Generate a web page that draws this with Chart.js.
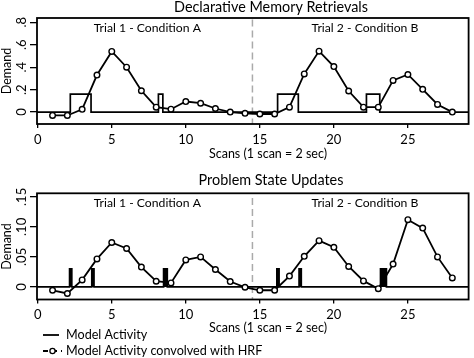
<!DOCTYPE html>
<html>
<head>
<meta charset="utf-8">
<script src="https://cdn.jsdelivr.net/npm/chart.js@4.4.1/dist/chart.umd.min.js"></script>
<style>
  html, body { margin: 0; padding: 0; background: #fff; }
  #wrap { position: relative; width: 474px; height: 358px; }
  #top { position: absolute; left: 0; top: 0; }
  #bottom { position: absolute; left: 0; top: 170px; }
</style>
</head>
<body>
<div id="wrap">
  <canvas id="top" width="474" height="170"></canvas>
  <canvas id="bottom" width="474" height="188"></canvas>
</div>
<script>
// ----- data -----
var scans = [1, 2, 3, 4, 5, 6, 7, 8, 9, 10, 11, 12, 13, 14, 15, 16, 17, 18, 19, 20, 21, 22, 23, 24, 25, 26, 27, 28];

// Declarative memory retrievals
var retrievalHrf = [-0.03, -0.03, 0.025, 0.33, 0.54, 0.40, 0.19, 0.044, 0.026, 0.094, 0.079, 0.032, 0.0, -0.011,
                    -0.017, -0.017, 0.044, 0.34, 0.543, 0.405, 0.188, 0.044, 0.044, 0.282, 0.335, 0.203, 0.068, 0.0];
var retrievalOnset = [2.2, 8.15, 16.2, 22.2];
var retrievalOffset = [3.6, 8.45, 17.6, 23.1];
var retrievalLevel = 0.16;

// Problem state updates
var updateHrf = [-0.0056, -0.011, 0.0117, 0.0467, 0.074, 0.064, 0.033, 0.0094, 0.0067, 0.045, 0.05, 0.029, 0.0089, -0.0006,
                 -0.0056, -0.0056, 0.018, 0.051, 0.077, 0.066, 0.034, 0.01, -0.003, 0.038, 0.112, 0.098, 0.05, 0.015];
var updateOnset = [2.15, 3.65, 8.5, 16.15, 17.65, 23.15];
var updateOffset = [2.3, 3.8, 8.75, 16.3, 17.8, 23.55];
var updateLevel = 0.03;

var xTicks = [0, 5, 10, 15, 20, 25];
var retrievalYTicks = [0, 0.2, 0.4, 0.6, 0.8];
var retrievalYLabels = ['0', '.2', '.4', '.6', '.8'];
var updateYTicks = [0, 0.05, 0.10, 0.15];
var updateYLabels = ['0', '.05', '.10', '.15'];

var trialBoundary = 14.5;
var trialNames = ['Trial 1 - Condition A', 'Trial 2 - Condition B'];
var legendNames = ['Model Activity', 'Model Activity convolved with HRF'];

Chart.defaults.font.family = 'Lato';
Chart.defaults.color = '#000';

// step outline of the model activity, from onset / offset lists
function stepPoints(onset, offset, level) {
  var pts = [{ x: -1, y: 0 }];
  for (var i = 0; i < onset.length; i++) {
    pts.push({ x: onset[i], y: 0 }, { x: onset[i], y: level }, { x: offset[i], y: level }, { x: offset[i], y: 0 });
  }
  pts.push({ x: 31, y: 0 });
  return pts;
}

function hrfPoints(values) {
  return scans.map(function (s, i) { return { x: s, y: values[i] }; });
}

// texts, box and legend drawn around the plot region
function decorations(o) {
  return {
    id: 'decorations',
    afterDraw: function (chart) {
      var ctx = chart.ctx, a = chart.chartArea, xs = chart.scales.x, ys = chart.scales.y;
      ctx.save();
      ctx.strokeStyle = '#000';
      ctx.lineWidth = 1.8;
      ctx.strokeRect(a.left, a.top, a.right - a.left, a.bottom - a.top);

      ctx.fillStyle = '#000';
      ctx.textAlign = 'center';
      ctx.textBaseline = 'middle';
      ctx.font = '14.4px Lato';
      ctx.fillText(o.title, 271, o.titleY);

      ctx.font = '12.2px Lato';
      ctx.fillText(trialNames[0], xs.getPixelForValue(7.4), a.top + 10);
      ctx.fillText(trialNames[1], xs.getPixelForValue(22.1), a.top + 10);

      ctx.font = '12.5px Lato';
      ctx.fillText('Scans (1 scan = 2 sec)', 268, o.scansY);

      ctx.font = '13px Lato';
      o.yTicks.forEach(function (v, i) {
        ctx.save();
        ctx.translate(22, ys.getPixelForValue(v));
        ctx.rotate(-Math.PI / 2);
        ctx.fillText(o.yLabels[i], 0, 0);
        ctx.restore();
      });

      ctx.font = '12.5px Lato';
      ctx.save();
      ctx.translate(6.5, (a.top + a.bottom) / 2);
      ctx.rotate(-Math.PI / 2);
      ctx.fillText('Demand', 0, 0);
      ctx.restore();

      if (o.legendY) {
        ctx.font = '12.6px Lato';
        ctx.textAlign = 'left';
        ctx.lineWidth = 1.8;
        ctx.beginPath();
        ctx.moveTo(43, o.legendY[0]);
        ctx.lineTo(59, o.legendY[0]);
        ctx.stroke();
        ctx.fillText(legendNames[0], 66, o.legendY[0]);

        ctx.beginPath();
        ctx.setLineDash([5, 4]);
        ctx.moveTo(43, o.legendY[1]);
        ctx.lineTo(62, o.legendY[1]);
        ctx.stroke();
        ctx.setLineDash([]);
        ctx.beginPath();
        ctx.arc(52.5, o.legendY[1], 2.6, 0, Math.PI * 2);
        ctx.fillStyle = '#fff';
        ctx.fill();
        ctx.lineWidth = 1.3;
        ctx.stroke();
        ctx.fillStyle = '#000';
        ctx.fillText(legendNames[1], 66, o.legendY[1]);
      }
      ctx.restore();
    }
  };
}

function makeConfig(o) {
  return {
    type: 'line',
    data: {
      datasets: [
        {
          data: hrfPoints(o.hrf),
          borderColor: '#000',
          borderWidth: 1.8,
          pointRadius: 2.8,
          pointBorderWidth: 1.4,
          pointBackgroundColor: '#fff',
          pointBorderColor: '#000',
          tension: 0,
          order: 0
        },
        {
          data: stepPoints(o.onset, o.offset, o.level),
          borderColor: '#000',
          borderWidth: 1.7,
          pointRadius: 0,
          fill: o.filled ? 'origin' : false,
          backgroundColor: '#000',
          clip: 0,
          order: 1
        },
        {
          data: [{ x: trialBoundary, y: -1 }, { x: trialBoundary, y: 1 }],
          borderColor: '#aaaaaa',
          borderWidth: 1.5,
          borderDash: [7, 4],
          pointRadius: 0,
          clip: 0,
          order: 2
        }
      ]
    },
    options: {
      responsive: false,
      animation: false,
      layout: { padding: { top: o.padTop, right: 2, left: 0, bottom: 0 } },
      plugins: { legend: { display: false }, tooltip: { enabled: false } },
      scales: {
        x: {
          type: 'linear',
          min: -0.05,
          max: 29.1,
          afterBuildTicks: function (s) { s.ticks = xTicks.map(function (v) { return { value: v }; }); },
          afterFit: function (s) { s.height = o.xHeight; },
          ticks: { font: { size: 13 }, color: '#000', padding: 4, maxRotation: 0, autoSkip: false },
          grid: { drawOnChartArea: false, tickLength: 4, color: '#000', lineWidth: 1.3 },
          border: { display: false }
        },
        y: {
          type: 'linear',
          min: o.yMin,
          max: o.yMax,
          afterBuildTicks: function (s) { s.ticks = o.yTicks.map(function (v) { return { value: v }; }); },
          afterFit: function (s) { s.width = 37; },
          ticks: { display: false },
          grid: { drawOnChartArea: false, tickLength: 7, color: '#000', lineWidth: 1.3 },
          border: { display: false }
        }
      }
    },
    plugins: [decorations(o)]
  };
}

new Chart(document.getElementById('top').getContext('2d'), makeConfig({
  hrf: retrievalHrf, onset: retrievalOnset, offset: retrievalOffset, level: retrievalLevel, filled: false,
  yMin: -0.106, yMax: 0.838, yTicks: retrievalYTicks, yLabels: retrievalYLabels,
  padTop: 18, xHeight: 46, title: 'Declarative Memory Retrievals', titleY: 7, scansY: 153.5
}));

new Chart(document.getElementById('bottom').getContext('2d'), makeConfig({
  hrf: updateHrf, onset: updateOnset, offset: updateOffset, level: updateLevel, filled: true,
  yMin: -0.021, yMax: 0.156, yTicks: updateYTicks, yLabels: updateYLabels,
  padTop: 23.3, xHeight: 58.5, title: 'Problem State Updates', titleY: 10, scansY: 158.3,
  legendY: [165, 181]
}));
</script>
</body>
</html>
